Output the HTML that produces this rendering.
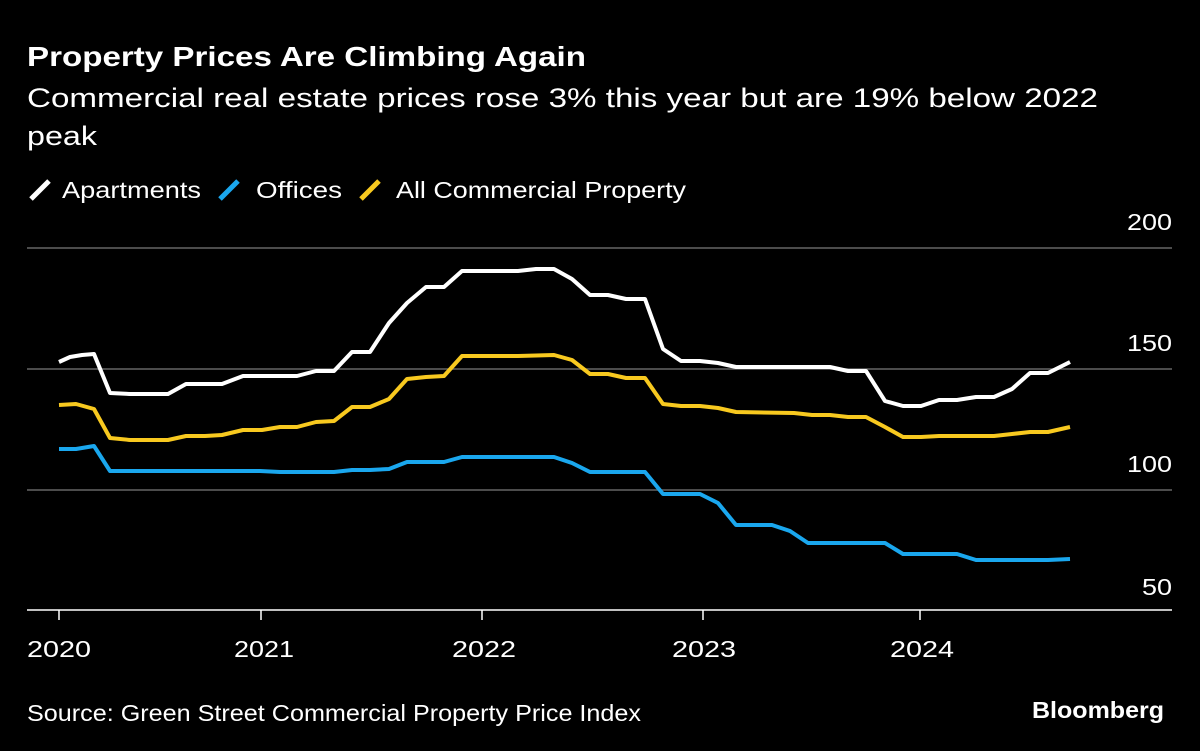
<!DOCTYPE html>
<html><head><meta charset="utf-8"><style>
body{margin:0;background:#000;width:1200px;height:751px;overflow:hidden;font-family:"Liberation Sans",sans-serif;color:#fff}
</style></head><body>
<svg width="1200" height="751" xmlns="http://www.w3.org/2000/svg" style="position:absolute;left:0;top:0">
<text x="27" y="66" font-size="28" font-weight="bold" fill="#fff" textLength="559" lengthAdjust="spacingAndGlyphs">Property Prices Are Climbing Again</text>
<text x="27" y="107" font-size="27" fill="#fff" textLength="1071" lengthAdjust="spacingAndGlyphs">Commercial real estate prices rose 3% this year but are 19% below 2022</text>
<text x="27" y="145" font-size="27" fill="#fff" textLength="70" lengthAdjust="spacingAndGlyphs">peak</text>
<line x1="31" y1="199" x2="49" y2="181" stroke="#fff" stroke-width="5"/>
<text x="62" y="198" font-size="23" fill="#fff" textLength="139" lengthAdjust="spacingAndGlyphs">Apartments</text>
<line x1="220" y1="199" x2="238" y2="181" stroke="#1aa7ee" stroke-width="5"/>
<text x="256" y="198" font-size="23" fill="#fff" textLength="86" lengthAdjust="spacingAndGlyphs">Offices</text>
<line x1="361" y1="199" x2="379" y2="181" stroke="#f8c91f" stroke-width="5"/>
<text x="396" y="198" font-size="23" fill="#fff" textLength="290" lengthAdjust="spacingAndGlyphs">All Commercial Property</text>
<g stroke="#666" stroke-width="1.5">
<line x1="27" y1="248" x2="1172" y2="248"/>
<line x1="27" y1="369" x2="1172" y2="369"/>
<line x1="27" y1="490" x2="1172" y2="490"/>
</g>
<line x1="27" y1="610" x2="1172" y2="610" stroke="#fff" stroke-width="1.5"/>
<g font-size="23" fill="#fff" text-anchor="end">
<text x="1172" y="230" textLength="45" lengthAdjust="spacingAndGlyphs">200</text><text x="1172" y="351" textLength="45" lengthAdjust="spacingAndGlyphs">150</text><text x="1172" y="472" textLength="45" lengthAdjust="spacingAndGlyphs">100</text><text x="1172" y="595" textLength="30" lengthAdjust="spacingAndGlyphs">50</text>
</g>
<g stroke="#fff" stroke-width="1.5">
<line x1="59" y1="610" x2="59" y2="620"/><line x1="261" y1="610" x2="261" y2="620"/><line x1="482" y1="610" x2="482" y2="620"/><line x1="703" y1="610" x2="703" y2="620"/><line x1="920" y1="610" x2="920" y2="620"/>
</g>
<g font-size="23" fill="#fff">
<text x="27" y="657" textLength="64" lengthAdjust="spacingAndGlyphs">2020</text><text x="234" y="657" textLength="60" lengthAdjust="spacingAndGlyphs">2021</text><text x="452" y="657" textLength="64" lengthAdjust="spacingAndGlyphs">2022</text><text x="672" y="657" textLength="64" lengthAdjust="spacingAndGlyphs">2023</text><text x="890" y="657" textLength="64" lengthAdjust="spacingAndGlyphs">2024</text>
</g>
<g fill="none" stroke-width="4" stroke-linejoin="round">
<polyline stroke="#1aa7ee" points="59,449 76,449 94,446 110,471 260,471 280,472 334,472 352,470 370,470 389,469 407,462 444,462 462,457 554,457 572,463 590,472 645,472 663,494 700,494 718,503 736,525 772,525 790,531 808,543 885,543 903,554 957,554 976,560 1048,560 1070,559"/>
<polyline stroke="#f8c91f" points="59,405 76,404 94,409 110,438 130,440 168,440 186,436 205,436 222,435 243,430 262,430 280,427 297,427 316,422 334,421 352,407 370,407 389,399 407,379 426,377 444,376 462,356 518,356 554,355 572,360 590,374 608,374 626,378 645,378 663,404 681,406 700,406 718,408 736,412 794,413 812,415 830,415 848,417 866,417 885,427 903,437 921,437 939,436 994,436 1012,434 1030,432 1048,432 1070,427"/>
<polyline stroke="#fff" points="59,362 70,357 82,355 94,354 110,393 130,394 168,394 186,384 222,384 243,376 297,376 316,371 334,371 352,352 370,352 389,323 407,303 426,287 444,287 462,271 518,271 536,269 554,269 572,279 590,295 608,295 626,299 645,299 663,349 681,361 700,361 718,363 736,367 830,367 848,371 866,371 885,401 903,406 921,406 939,400 957,400 976,397 994,397 1012,389 1030,373 1048,373 1070,362"/>
</g>
<text x="27" y="721" font-size="23" fill="#fff" textLength="614" lengthAdjust="spacingAndGlyphs">Source: Green Street Commercial Property Price Index</text>
<text x="1032" y="718" font-size="23" font-weight="bold" fill="#fff" textLength="132" lengthAdjust="spacingAndGlyphs">Bloomberg</text>
</svg>
</body></html>
